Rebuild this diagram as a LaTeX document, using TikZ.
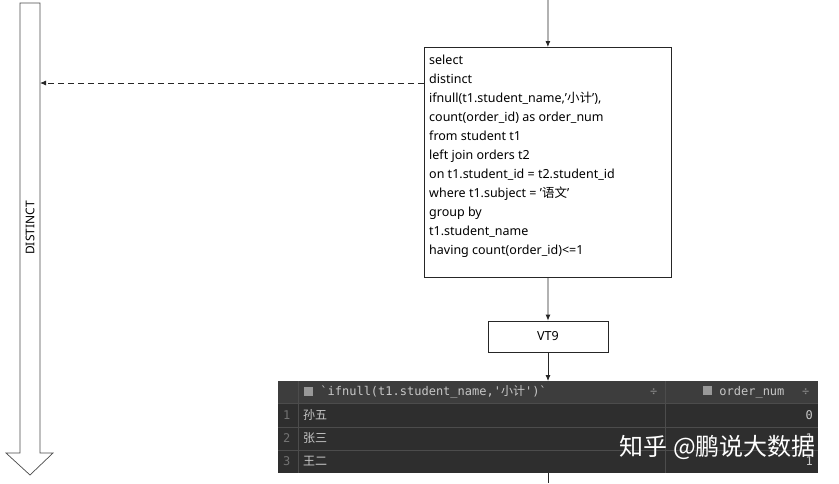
\documentclass[tikz,border=0pt]{standalone}
\usepackage{fontspec}
\setmainfont{Noto Sans}
\newfontfamily\cjk{Noto Sans CJK SC}
\newfontfamily\mono{DejaVu Sans Mono}
\usetikzlibrary{arrows.meta,shapes.arrows}
\begin{document}
\begin{tikzpicture}[x=1pt,y=-1pt,
  conn/.style={draw=black!85,line width=0.8pt,-{Latex[length=6pt,width=5pt]}},
  boxst/.style={draw=black!85,fill=white,line width=0.8pt},
  tcell/.style={font=\mono\fontsize{12}{14}\selectfont,text=white!78!black,anchor=west,inner sep=0pt}]
\useasboundingbox (0,0) rectangle (839,483);
\fill[white] (0,0) rectangle (839,483);
% big DISTINCT arrow
\draw[black!70,line width=0.7pt,fill=white] (20,3) -- (40,3) -- (40,453) -- (53,453) -- (30,475) -- (6,453) -- (20,453) -- cycle;
\node[rotate=90,font=\fontsize{12}{14}\selectfont] (dl) at (30,228) {DISTINCT};
\coordinate (top) at (548,0);
\coordinate (dend) at (40,83);
\node[boxst,minimum width=247pt,minimum height=230pt,anchor=north west,inner sep=0pt] (q) at (424,47) {};
\node[anchor=north west,align=left,font=\fontsize{12.5}{19}\selectfont,inner sep=0pt] (qt) at (429,55) {select\\distinct\\ifnull(t1.student\_name,'{\cjk 小计}'),\\count(order\_id) as order\_num\\from student t1\\left join orders t2\\on t1.student\_id = t2.student\_id\\where t1.subject = '{\cjk 语文}'\\group by\\t1.student\_name\\having count(order\_id)<=1};
\node[boxst,minimum width=120pt,minimum height=31pt,inner sep=0pt,font=\fontsize{12.5}{14}\selectfont] (vt) at (548,336.5) {VT9};
% table
\fill[black!82] (278,381) rectangle (818,473);
\fill[black!76] (278,381) rectangle (818,403);
\draw[black!70,line width=0.4pt] (278,403) -- (818,403) (278,427) -- (818,427) (278,450) -- (818,450) (298,381) -- (298,473) (665,381) -- (665,473);
\coordinate (ttop) at (548,381);
\coordinate (tbot) at (548,473);
\coordinate (bot) at (548,483);
\node[tcell] (h1) at (304,392) {\textcolor{white!60!black}{\rule{9pt}{9pt}} `ifnull(t1.student\_name,'{\cjk 小计}')`};
\node[tcell] (h1s) at (650,392) {\textcolor{white!55!black}{÷}};
\node[tcell] (h2) at (703,392) {\textcolor{white!60!black}{\rule{9pt}{9pt}} order\_num};
\node[tcell] (h2s) at (802,392) {\textcolor{white!55!black}{÷}};
\foreach \n/\y/\nm/\v in {1/415/孙五/0,2/438.5/张三/1,3/461.5/王二/1}{
  \node[tcell,text=white!45!black] at (283,\y) {\n};
  \node[tcell,font=\cjk\fontsize{12}{14}\selectfont] at (303,\y) {\nm};
  \node[tcell,anchor=east] at (813,\y) {\v};
}
\node[anchor=east,text=white,font=\cjk\fontsize{24}{26}\selectfont,inner sep=0pt] (wm) at (816,447) {知乎 @鹏说大数据};
\draw[conn] (top) -- (q.north);
\draw[conn,dashed,dash pattern=on 6pt off 4pt] (q.west |- dend) -- (dend);
\draw[conn] (q.south) -- (vt.north);
\draw[conn] (vt.south) -- (ttop);
\draw[black!85,line width=0.8pt] (tbot) -- (bot);
\end{tikzpicture}
\end{document}
